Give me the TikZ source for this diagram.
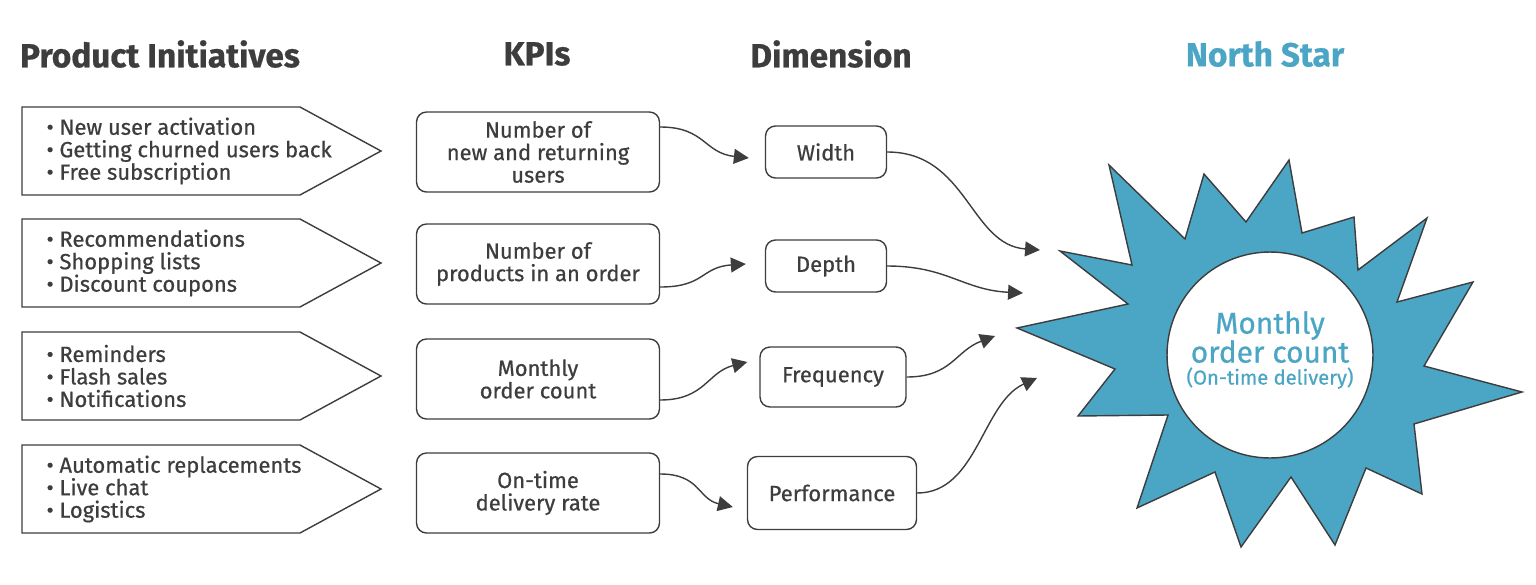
\documentclass[tikz,border=0pt]{standalone}
\usepackage{fontspec}
\setmainfont{Fira Sans}[FakeBold=0.6]
\usetikzlibrary{arrows.meta,positioning,calc}
\definecolor{nsblue}{HTML}{4BA5C4}
\definecolor{nsgray}{HTML}{3D3D3D}

\begin{document}
\begin{tikzpicture}[x=0.02cm, y=-0.02cm, line width=0.8pt, color=nsgray,
  font=\fontsize{12.5}{12.8}\selectfont,
  head/.style={font=\fontsize{19}{22}\selectfont\bfseries},
  kpibox/.style={draw=nsgray, rounded corners=0.2cm, align=center, minimum width=4.86cm, minimum height=1.6cm, inner sep=2pt},
  dimbox/.style={draw=nsgray, rounded corners=0.2cm, align=center, inner sep=2pt},
  flow/.style={draw=nsgray, -{Triangle[length=8.5pt,width=8.5pt]}}]
  \useasboundingbox (0,0) rectangle (1536,585);
  % column headings
  \node[head] (hpi) at (160,54) {Product Initiatives};
  \node[head] (hkpi) at (537,54) {KPIs};
  \node[head] (hdim) at (831,54) {Dimension};
  \node[head, text=nsblue] (hns) at (1265,54) {North Star};
  % initiatives
  \draw (22,107) -- (300,107) -- (381,151) -- (300,195) -- (22,195) -- cycle;
  \draw (22,219) -- (300,219) -- (381,263) -- (300,307) -- (22,307) -- cycle;
  \draw (22,332) -- (300,332) -- (381,376) -- (300,420) -- (22,420) -- cycle;
  \draw (22,445) -- (300,445) -- (381,489) -- (300,533) -- (22,533) -- cycle;
  \node[anchor=west, align=left] (i1) at (40,151) {• New user activation\\• Getting churned users back\\• Free subscription};
  \node[anchor=west, align=left] (i2) at (40,263) {• Recommendations\\• Shopping lists\\• Discount coupons};
  \node[anchor=west, align=left] (i3) at (40,376) {• Reminders\\• Flash sales\\• Notifications};
  \node[anchor=west, align=left] (i4) at (40,489) {• Automatic replacements\\• Live chat\\• Logistics};
  % KPIs
  \node[kpibox] (k1) at (538,152) {Number of\\new and returning\\users};
  \node[kpibox] (k2) at (538,264) {Number of\\products in an order};
  \node[kpibox] (k3) at (538,379) {Monthly\\order count};
  \node[kpibox] (k4) at (538,493) {On-time\\delivery rate};
  % dimensions
  \node[dimbox, minimum width=2.42cm, minimum height=1.04cm] (d1) at (826,152) {Width};
  \node[dimbox, minimum width=2.42cm, minimum height=1.04cm] (d2) at (826,266) {Depth};
  \node[dimbox, minimum width=2.92cm, minimum height=1.2cm] (d3) at (833,377) {Frequency};
  \node[dimbox, minimum width=3.38cm, minimum height=1.46cm] (d4) at (832,493) {Performance};
  % north star
  \filldraw[fill=nsblue, draw=nsgray] (1109,165) -- (1185,239) -- (1204,174) -- (1246,222) -- (1289,160)
    -- (1302,233) -- (1354,217) -- (1358,270) -- (1427,218) -- (1397,302) -- (1473,282) -- (1424,366)
    -- (1522,392) -- (1414,424) -- (1422,494) -- (1366,468) -- (1335,545) -- (1291,477) -- (1241,547)
    -- (1215,472) -- (1137,508) -- (1168,415) -- (1078,416) -- (1115,369) -- (1017,328) -- (1128,304)
    -- (1060,251) -- (1132,265) -- cycle;
  \filldraw[fill=white, draw=nsgray] (1270,355) circle[radius=2.06cm];
  \node[text=nsblue, align=center, font=\fontsize{17}{16.5}\selectfont] (ns) at (1270,350)
    {Monthly\\order count\\[-4pt]{\fontsize{11.5}{12}\selectfont (On-time delivery)}};
  \coordinate (s1) at (1040,250);
  \coordinate (s2) at (1023,293);
  \coordinate (s3) at (995,336);
  \coordinate (s4) at (1037,378);
  % KPI to dimension
  \draw[flow] ($(k1.east)+(0,-25)$) .. controls +(45,0) and +(-45,-5) .. ($(d1.west)+(-16,6)$);
  \draw[flow] ($(k2.east)+(0,23)$) .. controls +(45,0) and +(-45,3) .. ($(d2.west)+(-19,-2)$);
  \draw[flow] ($(k3.east)+(0,21)$) .. controls +(45,0) and +(-40,10) .. ($(d3.west)+(-12,-15)$);
  \draw[flow] ($(k4.east)+(0,-19)$) .. controls +(40,0) and +(-35,-8) .. ($(d4.west)+(-14,14)$);
  % dimension to north star
  \draw[flow] (d1.east) .. controls +(80,0) and +(-70,-5) .. (s1);
  \draw[flow] (d2.east) .. controls +(60,0) and +(-60,-3) .. (s2);
  \draw[flow] (d3.east) .. controls +(45,0) and +(-40,15) .. (s3);
  \draw[flow] (d4.east) .. controls +(60,0) and +(-55,25) .. (s4);
\end{tikzpicture}
\end{document}
